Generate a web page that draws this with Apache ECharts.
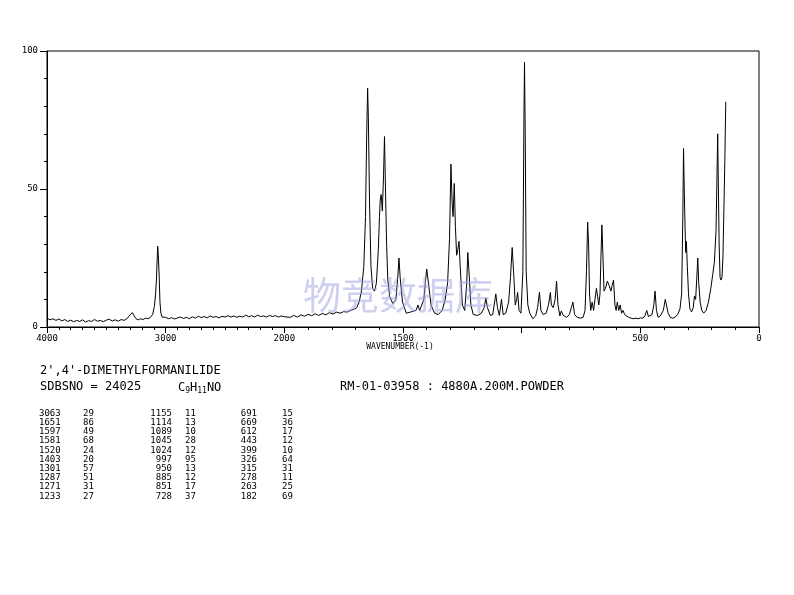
<!DOCTYPE html>
<html><head><meta charset="utf-8">
<script src="https://cdn.jsdelivr.net/npm/echarts@6/dist/echarts.min.js"></script>
<style>html,body{margin:0;padding:0;background:#fff}#c{width:794px;height:595px}</style>
</head><body><div id="c"></div>
<script>
// Spectrum: [wavenumber cm-1, intensity]
const highRegion = [[4000,3.2],[3975,2.6],[3950,3.0],[3925,2.4],[3900,2.9],[3875,2.2],[3850,2.7],[3825,2.0],[3800,2.5],[3775,1.9],[3750,2.4],[3725,2.0],[3700,2.6],[3675,1.8],[3650,2.3],[3625,2.0],[3600,2.7],[3575,2.1],[3550,2.4],[3525,1.9],[3500,2.5],[3475,2.8],[3450,2.2],[3425,2.6],[3400,2.1],[3375,2.7],[3350,2.4],[3320,3.3],[3300,4.4],[3281,5.2],[3265,4.0],[3250,3.0],[3230,2.6],[3210,3.0],[3190,2.7],[3170,3.2],[3150,3.0],[3130,3.4],[3110,4.5],[3095,7.5],[3085,12],[3078,17],[3072,24],[3067,29.3],[3062,26],[3056,20],[3048,9],[3040,5],[3030,3.6],[3015,3.2],[3000,3.5],[2975,3.0],[2950,3.4],[2925,2.9],[2900,3.3],[2875,3.6],[2850,3.1],[2825,3.5],[2800,3.0],[2775,3.7],[2750,3.2],[2725,3.9],[2700,3.4],[2675,3.8],[2650,3.3],[2625,4.0],[2600,3.5],[2575,3.8],[2550,3.3],[2525,3.9],[2500,3.6],[2475,4.1],[2450,3.6],[2425,4.0],[2400,3.5],[2375,3.9],[2350,3.6],[2325,4.3],[2300,3.7],[2275,4.1],[2250,3.6],[2225,4.3],[2200,3.8],[2175,4.0],[2150,3.6],[2125,4.2],[2100,3.8],[2075,4.1],[2050,3.6],[2025,4.0],[2000,3.7]];
const midRegion = [[1975,3.5],[1960,4.2],[1945,3.6],[1930,4.4],[1915,3.9],[1900,4.6],[1885,4.1],[1870,4.8],[1855,4.2],[1840,4.9],[1825,4.4],[1810,5.2],[1795,4.7],[1780,5.4],[1765,5.0],[1750,5.6],[1735,5.4],[1720,6.0],[1705,6.5],[1695,7.0],[1685,9],[1675,13],[1665,22],[1658,40],[1653,70],[1649,86.5],[1646,76],[1641,45],[1635,22],[1628,14],[1620,13],[1612,16],[1604,28],[1599,40],[1596,46],[1592,48],[1587,42],[1582,55],[1578,69],[1574,51],[1569,30],[1564,17],[1556,11],[1543,8.5],[1530,10],[1522,18],[1517,25],[1512,18],[1502,9],[1486,5],[1465,5.5],[1445,6],[1437,8],[1430,6],[1422,6],[1412,10],[1406,16],[1400,21],[1393,16],[1382,8],[1367,5],[1352,4.5],[1335,6],[1322,10],[1312,16],[1304,32],[1298,59],[1293,45],[1289,40],[1284,52],[1279,36],[1274,26],[1269,28],[1264,31],[1259,22],[1250,8],[1240,6],[1232,15],[1227,27],[1222,20],[1214,8],[1204,4.5],[1185,4.2],[1170,5],[1158,7],[1151,10.5],[1144,7],[1132,4.2],[1122,4.5],[1114,9],[1109,12],[1102,7],[1094,4.2],[1085,10],[1078,4.5]];
const lowRegion = [[1067,5],[1055,9],[1047,18],[1040,28.8],[1034,20],[1027,8],[1021,10],[1017,12.5],[1011,6],[1003,5],[995,20],[990,80],[988,96],[985,70],[981,20],[974,8],[966,5],[953,3],[941,4],[933,7],[925,12.6],[919,6],[909,4.5],[897,5],[887,8],[879,12.5],[875,8],[867,7],[859,10],[853,16.6],[847,8],[839,4],[833,5.8],[825,4.2],[811,3.5],[799,4.5],[791,7],[784,9],[777,4.5],[766,3.5],[753,3.2],[741,3.5],[733,6],[727,20],[722,38],[718,30],[714,12],[709,6],[703,9],[697,6],[691,10],[685,14],[680,11],[675,8],[670,12],[666,25],[662,37],[658,27],[653,13],[647,14],[639,16.6],[631,15],[624,13],[619,15],[613,17],[607,8],[602,6],[597,9],[591,6],[585,8],[579,5],[573,6],[566,4.5],[559,3.8],[549,3.5],[539,3.2],[529,3.0],[519,3.2],[509,3.0],[499,3.3],[489,3.2],[481,4],[473,6],[466,3.8],[459,3.2],[451,4.5],[443,8],[438,13],[432,6],[425,3.5],[416,4],[403,6],[395,10],[390,8],[383,5],[374,3.5],[363,3.2],[353,3.6],[343,4.5],[333,6.5],[326,12],[321,40],[318,64.7],[315,50],[312,38],[309,27],[306,31],[302,22],[297,12],[291,6.5],[284,5.5],[277,7],[272,11.2],[267,10],[262,18],[258,25],[254,16],[248,9],[241,6],[233,5],[223,6],[213,9],[203,14],[195,19],[188,23.4],[181,35],[177,55],[174,70],[171,50],[168,30],[164,18],[160,17],[156,18],[152,25],[148,42],[144,60],[140,81.6]];

// tick positions and labels (wavenumbers)
const majorTicks = [4000,3000,2000,1500,1000,500,0];
const tickLabels = [4000,3000,2000,1500,500,0];
const minorTicks = [];
for (let w = 4000; w >= 0; w -= 100) minorTicks.push(w);
const yMajor = [0,50,100];
const yMinor = [0,10,20,30,40,50,60,70,80,90,100];

// piecewise scale: 4000-2000 compressed 2x
const toT = w => w >= 2000 ? (4000 - w) / 2 : 1000 + (2000 - w);
const fromT = t => t <= 1000 ? 4000 - 2 * t : 2000 - (t - 1000);

const data = highRegion.concat(midRegion, lowRegion).map(p => [toT(p[0]), p[1]]);
const chart = echarts.init(document.getElementById('c'));
const font = 'DejaVu Sans Mono';
const xBase = {type:'value', min:0, max:3000, gridIndex:0, position:'bottom', splitLine:{show:false}};
const yBase = {type:'value', min:0, max:100, gridIndex:0, position:'left', splitLine:{show:false}};
const rows = [
 ['3063','29','1155','11','691','15'],['1651','86','1114','13','669','36'],['1597','49','1089','10','612','17'],
 ['1581','68','1045','28','443','12'],['1520','24','1024','12','399','10'],['1403','20','997','95','326','64'],
 ['1301','57','950','13','315','31'],['1287','51','885','12','278','11'],['1271','31','851','17','263','25'],
 ['1233','27','728','37','182','69']];
const colX = [[39,'left'],[83,'left'],[172,'right'],[185,'left'],[257,'right'],[282,'left']];
const g = [];
rows.forEach((r, i) => r.forEach((v, j) => g.push({type:'text', x: colX[j][0], y: 409 + i*9.2,
  style:{text:v, font:'9px '+font, fill:'#000', textAlign: colX[j][1]}})));
g.push({type:'text', x:40, y:365, style:{text:"2',4'-DIMETHYLFORMANILIDE", font:'12px '+font, fill:'#000'}});
g.push({type:'text', x:40, y:381, style:{text:"SDBSNO = 24025", font:'12px '+font, fill:'#000'}});
g.push({type:'text', x:178, y:381, style:{rich:{a:{font:'12px '+font, fill:'#000'}, s:{font:'8px '+font, fill:'#000', padding:[6,0,0,0]}}, text:"{a|C}{s|9}{a|H}{s|11}{a|NO}"}});
g.push({type:'text', x:340, y:381, style:{text:"RM-01-03958 : 4880A.200M.POWDER", font:'12px '+font, fill:'#000'}});
g.push({type:'text', x:400, y:343, style:{text:"WAVENUMBER(-1)", font:'8px '+font, fill:'#000', textAlign:'center'}});
g.push({type:'text', x:398, y:295, z:100, style:{text:"物竞数据库", font:'38px "Noto Sans CJK SC"', fill:'rgba(160,160,225,0.5)', textAlign:'center', textVerticalAlign:'middle'}});

chart.setOption({
  animation:false,
  grid:{left:47, right:35, top:51, bottom:268, show:true, borderColor:'#000', borderWidth:1},
  xAxis:[
    Object.assign({}, xBase, {axisLine:{lineStyle:{color:'#000'}}, axisTick:{length:3, customValues:minorTicks.map(toT), lineStyle:{color:'#000'}}, axisLabel:{show:false}}),
    Object.assign({}, xBase, {axisLine:{show:false}, axisTick:{length:6, customValues:majorTicks.map(toT), lineStyle:{color:'#000'}},
      axisLabel:{customValues:tickLabels.map(toT), formatter:v => String(Math.round(fromT(v))), fontFamily:font, fontSize:9, color:'#000', margin:7}})
  ],
  yAxis:[
    Object.assign({}, yBase, {axisLine:{lineStyle:{color:'#000'}}, axisTick:{length:3, customValues:yMinor, lineStyle:{color:'#000'}}, axisLabel:{show:false}}),
    Object.assign({}, yBase, {axisLine:{show:false}, axisTick:{length:7, customValues:yMajor, lineStyle:{color:'#000'}},
      axisLabel:{customValues:yMajor, fontFamily:font, fontSize:9, color:'#000', margin:9}})
  ],
  series:[{type:'line', data:data, showSymbol:false, symbol:'none', lineStyle:{color:'#000', width:1}, z:2}],
  graphic:g
});
</script></body></html>
